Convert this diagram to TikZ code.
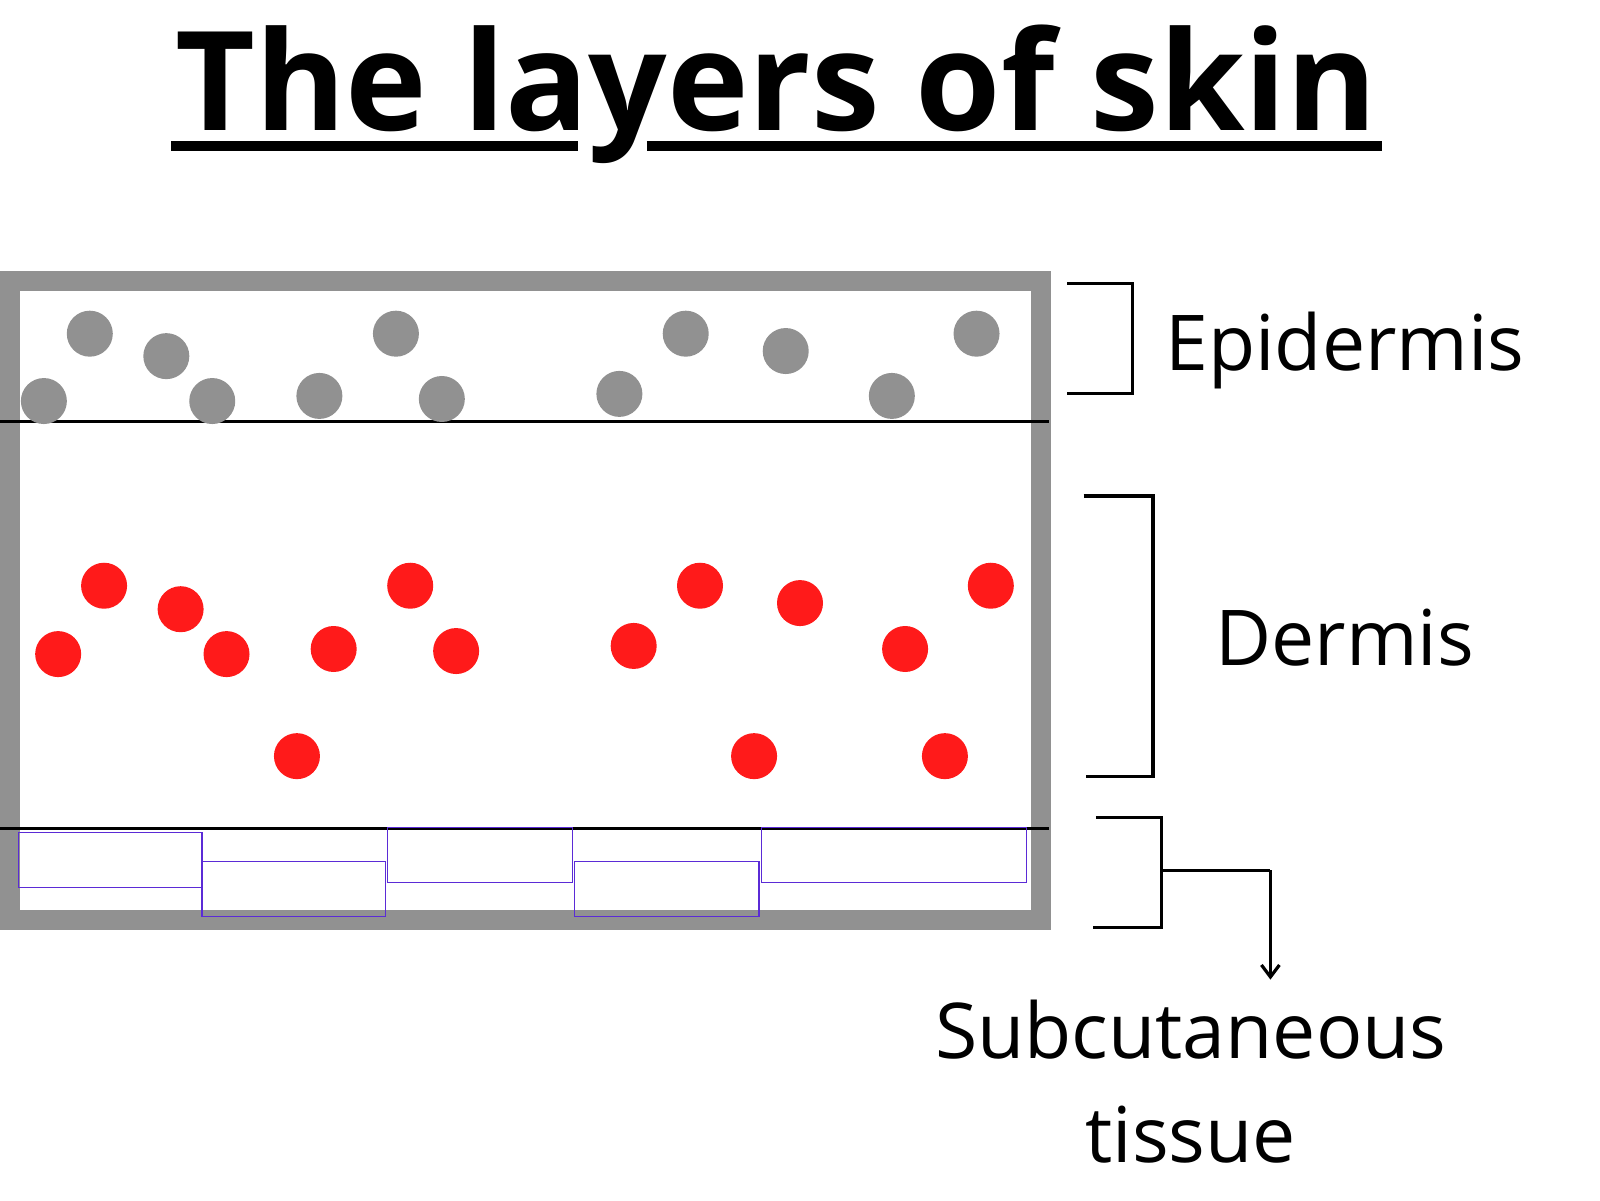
\documentclass[tikz,border=0pt]{standalone}
\usepackage{fontspec}
\setmainfont{Open Sans}
\usetikzlibrary{arrows.meta}
\definecolor{frame}{HTML}{919191}
\definecolor{cellred}{HTML}{FF1A1A}
\definecolor{fatline}{HTML}{5B2BD6}
\tikzset{
  gdot/.style={circle,fill=frame,minimum size=23pt,inner sep=0pt},
  rdot/.style={circle,fill=cellred,minimum size=23pt,inner sep=0pt},
  brk/.style={line width=1.6pt},
  fat/.style={draw=fatline,line width=0.7pt},
  lbl/.style={font=\fontsize{38.5}{46}\selectfont,inner sep=0pt}
}
\begin{document}
\begin{tikzpicture}[x=0.5102pt,y=-0.5102pt]
\useasboundingbox[fill=white] (0,0) rectangle (1568,1176);
% title
\node[font=\fontsize{69}{72}\bfseries\selectfont,anchor=base] (title) at (761,128) {The layers of skin};
\draw[line width=4.8pt] (168,143) -- (566,143);
\draw[line width=4.8pt] (634,143) -- (1354,143);
% frame
\draw[draw=frame,line width=10pt] (10,275) rectangle (1020,902);
\draw[line width=1.6pt] (0,413) -- (1028,413);
\draw[line width=1.6pt] (0,812) -- (1028,812);
% gray dots
\foreach \x/\y [count=\i] in {43/393,88/327,163/349,208/393,313/388,388/327,433/391,607/386,672/327,770/344,874/388,957/327}
  \node[gdot] (g\i) at (\x,\y) {};
% red dots
\foreach \x/\y [count=\i] in {57/641,102/574,177/597,222/641,327/636,402/574,447/638,621/633,686/574,784/591,887/636,971/574,291/741,739/741,926/741}
  \node[rdot] (r\i) at (\x,\y) {};
% fat cells
\draw[fat] (18,816) rectangle (198,870);
\draw[fat] (198,844) rectangle (378,898);
\draw[fat] (380,811) rectangle (561,865);
\draw[fat] (563,844) rectangle (744,898);
\draw[fat] (746,811) rectangle (1006,865);
% brackets
\draw[brk] (1046,278) -- (1110,278) -- (1110,386) -- (1046,386);
\node[lbl] (epi) at (1318,343) {Epidermis};
\draw[brk] (1062,486) -- (1130,486) -- (1130,761) -- (1064,761);
\node[lbl] (der) at (1318,625) {Dermis};
\draw[brk] (1074,801) -- (1138,801) -- (1138,909) -- (1071,909);
\coordinate (sb) at (1138,853);
\coordinate (sc) at (1245,853);
\node[lbl,font=\fontsize{38.5}{50}\selectfont,align=center,anchor=north] (sub) at (1167,980) {Subcutaneous\\[2pt]tissue};
\draw[brk] (sb) -- (sc);
\draw[brk,-{Straight Barb[length=6pt,width=9pt]}] (sc) -- (1245,960);
\end{tikzpicture}
\end{document}
